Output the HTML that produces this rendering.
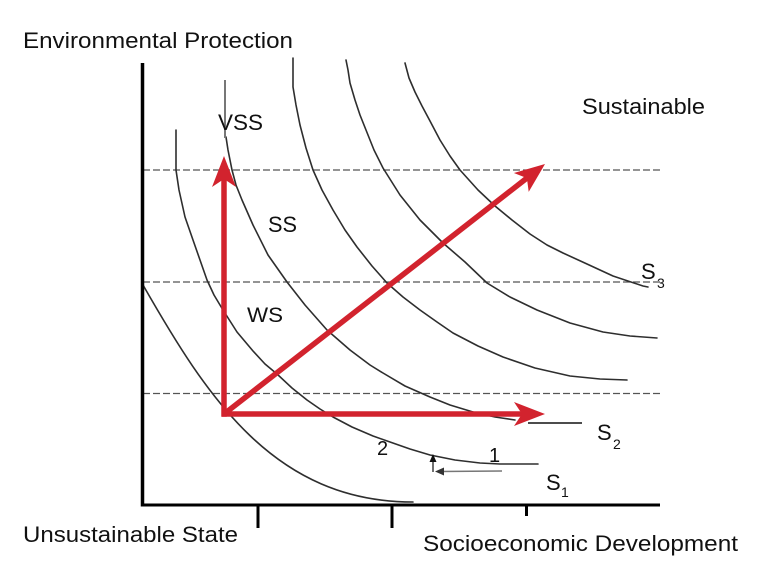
<!DOCTYPE html>
<html>
<head>
<meta charset="utf-8">
<style>
  html,body{margin:0;padding:0;background:#fff;}
  svg{display:block;}
  text{font-family:"Liberation Sans", Arial, sans-serif; fill:#111;}
</style>
</head>
<body>
<svg width="768" height="568" viewBox="0 0 768 568" xmlns="http://www.w3.org/2000/svg">
  <rect width="768" height="568" fill="#fff"/>

  <!-- dashed guide lines -->
  <g stroke="#555" stroke-width="1.3" stroke-dasharray="7,3" fill="none">
    <line x1="143" y1="170" x2="660" y2="170"/>
    <line x1="143" y1="282" x2="660" y2="282"/>
    <line x1="143" y1="393.5" x2="660" y2="393.5"/>
  </g>

  <!-- curves -->
  <g stroke="#2e2e2e" stroke-width="1.6" fill="none" stroke-linejoin="round" stroke-linecap="round">
    <!-- L0 lowest -->
    <path d="M143,285 C207,397 274,502 413,502"/>
    <!-- L1 (S1) -->
    <polyline points="176,130 176,170 179,190 185,217 193,240 200,260 207,280 214,295 223,310 237,332 253,351 265,364 277,374 292,388 307,400 320,409 333,417 352,427 373,436 390,442 410,449 430,455 455,460 480,463 500,464 538,464"/>
    <!-- L2 (S2) -->
    <polyline points="226,137 228,150 232,170 236,185 242,200 253,225 268,255 287,282 305,305 327,330 350,350 370,365 383,373 405,386 430,397 450,405 473,412 495,417 515,420"/>
    <!-- L3 -->
    <polyline points="293,58 293,87 296,105 300,125 306,148 313,170 322,190 333,210 345,230 357,247 372,266 387,283 403,297 420,310 437,322 453,333 478,346 503,357 535,368 570,376 600,379 627,380"/>
    <!-- L4 -->
    <polyline points="346,60 348,70 350,83 355,100 360,115 366,130 374,150 383,168 400,195 420,220 443,243 465,262 487,283 510,297 537,310 570,323 603,332 630,336 657,338"/>
    <!-- L5 (S3) -->
    <polyline points="405,63 409,78 415,92 422,106 430,121 440,140 450,156 460,170 478,190 495,206 512,220 530,234 547,245 563,253 587,264 613,276 643,286 648,287"/>
  </g>

  <!-- VSS grey line -->
  <line x1="225" y1="80" x2="225" y2="138" stroke="#777" stroke-width="2"/>
  <!-- S2 black extension -->
  <line x1="528" y1="423" x2="582" y2="423" stroke="#111" stroke-width="1.5"/>

  <!-- small arrows near "1" -->
  <line x1="502" y1="471" x2="440" y2="471.5" stroke="#777" stroke-width="1.6"/>
  <polygon points="435,471.5 444,467.5 444,475.5" fill="#333"/>
  <line x1="433" y1="472" x2="433" y2="460" stroke="#333" stroke-width="1.4"/>
  <polygon points="433,454 429.5,462 436.5,462" fill="#111"/>

  <!-- axes -->
  <line x1="142.5" y1="63" x2="142.5" y2="506.5" stroke="#000" stroke-width="3.5"/>
  <line x1="141" y1="505" x2="660" y2="505" stroke="#000" stroke-width="3"/>
  <line x1="258" y1="505" x2="258" y2="528" stroke="#000" stroke-width="3"/>
  <line x1="392" y1="505" x2="392" y2="528" stroke="#000" stroke-width="3"/>
  <line x1="526.5" y1="505" x2="526.5" y2="516" stroke="#000" stroke-width="3"/>

  <!-- red arrows -->
  <g stroke="#d2232e" stroke-width="5.5" fill="none">
    <line x1="224" y1="414" x2="224" y2="180" stroke-linecap="square"/>
    <line x1="222" y1="414" x2="522" y2="414"/>
    <line x1="224" y1="414" x2="526.9" y2="178.1"/>
  </g>
  <g fill="#d2232e">
    <polygon points="224,156 236,187 224,179 212,187"/>
    <polygon points="545,414 514,426 522,414 514,402"/>
    <polygon points="545,164 528.7,191.9 526.9,178.1 513.9,173"/>
  </g>

  <!-- labels -->
  <text x="23" y="48" font-size="22" textLength="270" lengthAdjust="spacingAndGlyphs">Environmental Protection</text>
  <text x="582" y="114" font-size="22" textLength="123" lengthAdjust="spacingAndGlyphs">Sustainable</text>
  <text x="23" y="542" font-size="22" textLength="215" lengthAdjust="spacingAndGlyphs">Unsustainable State</text>
  <text x="423" y="551" font-size="22" textLength="315" lengthAdjust="spacingAndGlyphs">Socioeconomic Development</text>

  <text x="218" y="130" font-size="22" textLength="45" lengthAdjust="spacingAndGlyphs">VSS</text>
  <text x="268" y="232" font-size="22" textLength="29" lengthAdjust="spacingAndGlyphs">SS</text>
  <text x="247" y="322" font-size="21" textLength="36" lengthAdjust="spacingAndGlyphs">WS</text>

  <text x="641" y="279" font-size="22">S</text>
  <text x="657" y="288" font-size="14">3</text>
  <text x="597" y="440" font-size="22">S</text>
  <text x="613" y="449" font-size="14">2</text>
  <text x="546" y="490" font-size="22">S</text>
  <text x="561" y="497" font-size="14">1</text>

  <text x="377" y="455" font-size="20">2</text>
  <text x="489" y="462" font-size="20">1</text>
</svg>
</body>
</html>
